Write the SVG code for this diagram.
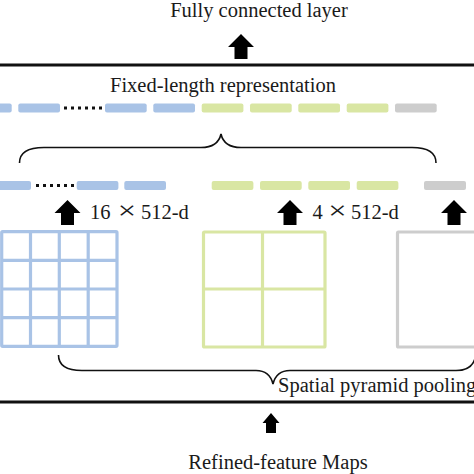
<svg xmlns="http://www.w3.org/2000/svg" width="474" height="474" viewBox="0 0 474 474">
<defs>
<style>
text{font-family:"Liberation Serif","Times New Roman",serif;font-size:20.5px;fill:#1a1a1a}
.times{font-size:25px}
.bb{fill:#a9c3e6}
.gb{fill:#d9e6a3}
.yb{fill:#cdcdcd}
.dot{fill:#111}
.brace{fill:none;stroke:#111;stroke-width:1.6}
.rule{stroke:#111;stroke-width:3}
.arrow{fill:#000}
.gridb{fill:none;stroke:#a9c3e6;stroke-width:3.2}
.gridg{fill:none;stroke:#d9e6a3;stroke-width:3.2}
.gridy{fill:none;stroke:#cdcdcd;stroke-width:3.2}
</style>
<path id="arr" d="M-13,13 L0,0 L13,13 L6.5,13 L6.5,25 L-6.5,25 L-6.5,13 Z"/>
</defs>
<rect width="474" height="474" fill="#fff"/>

<g id="fc-layer">
<text x="259" y="17" text-anchor="middle">Fully connected layer</text>
</g>

<g id="connectors">
<use href="#arr" class="arrow" x="241" y="34"/>
<use href="#arr" class="arrow" x="67.5" y="200"/>
<use href="#arr" class="arrow" x="290" y="200"/>
<use href="#arr" class="arrow" x="454" y="200"/>
<path class="arrow" d="M262.5,423 L271,413 L279.5,423 L276,423 L276,433 L266,433 L266,423 Z"/>
<path class="brace" d="M19.5,163 C19.5,152 28,147.5 44,147.5 L201,147.5 C213,147.5 219,143 221,134 C223,143 229,147.5 241,147.5 L412,147.5 C428,147.5 436,152 436,163"/>
<path class="brace" d="M58.5,355 C58.5,365 66,370.5 82,370.5 L256,370.5 C266,370.5 271,376 273,384 C275,376 280,370.5 290,370.5 L456,370.5 C468,370.5 475,365 476,353"/>
</g>

<g id="spp-module">
<line class="rule" x1="0" y1="65" x2="474" y2="65"/>
<line class="rule" x1="0" y1="402" x2="474" y2="402"/>
</g>

<g id="fixed-length">
<text x="223" y="92" text-anchor="middle">Fixed-length representation</text>
<rect class="bb" x="-4" y="103.5" width="15.7" height="9" rx="2"/>
<rect class="bb" x="18.3" y="103.5" width="41.7" height="9" rx="2"/>
<g class="dot">
<rect x="64" y="106.5" width="3" height="3"/>
<rect x="71" y="106.5" width="3" height="3"/>
<rect x="78" y="106.5" width="3" height="3"/>
<rect x="85" y="106.5" width="3" height="3"/>
<rect x="92" y="106.5" width="3" height="3"/>
<rect x="99" y="106.5" width="3" height="3"/>
</g>
<rect class="bb" x="105" y="103.5" width="41.7" height="9" rx="2"/>
<rect class="bb" x="153.3" y="103.5" width="41.7" height="9" rx="2"/>
<rect class="gb" x="201.7" y="103.5" width="41.7" height="9" rx="2"/>
<rect class="gb" x="250" y="103.5" width="41.7" height="9" rx="2"/>
<rect class="gb" x="298.3" y="103.5" width="41.7" height="9" rx="2"/>
<rect class="gb" x="346.7" y="103.5" width="41.7" height="9" rx="2"/>
<rect class="yb" x="395" y="103.5" width="41.7" height="9" rx="2"/>
</g>

<g id="level-16">
<rect class="bb" x="-10" y="181" width="41" height="9" rx="2"/>
<g class="dot">
<rect x="36" y="184" width="3" height="3"/>
<rect x="43" y="184" width="3" height="3"/>
<rect x="50" y="184" width="3" height="3"/>
<rect x="57" y="184" width="3" height="3"/>
<rect x="64" y="184" width="3" height="3"/>
<rect x="71" y="184" width="3" height="3"/>
</g>
<rect class="bb" x="76.7" y="181" width="41.7" height="9" rx="2"/>
<rect class="bb" x="124.3" y="181" width="41.7" height="9" rx="2"/>
<text x="90" y="219">16</text>
<text class="times" text-anchor="middle" transform="translate(127,219) scale(1.3,1)">×</text>
<text x="141" y="219">512-d</text>
<g class="gridb">
<rect x="1.7" y="231.7" width="115.3" height="114.6" rx="1"/>
<line x1="30.5" y1="231.7" x2="30.5" y2="346.3"/>
<line x1="59.3" y1="231.7" x2="59.3" y2="346.3"/>
<line x1="88.2" y1="231.7" x2="88.2" y2="346.3"/>
<line x1="1.7" y1="260.4" x2="117" y2="260.4"/>
<line x1="1.7" y1="289" x2="117" y2="289"/>
<line x1="1.7" y1="317.7" x2="117" y2="317.7"/>
</g>
</g>

<g id="level-4">
<rect class="gb" x="211.7" y="181" width="41.7" height="9" rx="2"/>
<rect class="gb" x="260" y="181" width="41.7" height="9" rx="2"/>
<rect class="gb" x="308.3" y="181" width="41.7" height="9" rx="2"/>
<rect class="gb" x="356.7" y="181" width="41.7" height="9" rx="2"/>
<text x="312.5" y="219">4</text>
<text class="times" text-anchor="middle" transform="translate(337.5,219) scale(1.3,1)">×</text>
<text x="351" y="219">512-d</text>
<g class="gridg">
<rect x="203.5" y="232" width="121.5" height="115" rx="1"/>
<line x1="262.5" y1="232" x2="262.5" y2="347"/>
<line x1="203.5" y1="289" x2="325" y2="289"/>
</g>
</g>

<g id="level-1">
<rect class="yb" x="424" y="181" width="42" height="9" rx="2"/>
<rect class="gridy" x="397.5" y="232" width="100" height="115" rx="1"/>
</g>

<g id="spp-label">
<text x="278" y="392" font-size="16.5">Spatial pyramid pooling</text>
</g>

<g id="input">
<text x="278" y="469" text-anchor="middle">Refined-feature Maps</text>
</g>
</svg>
